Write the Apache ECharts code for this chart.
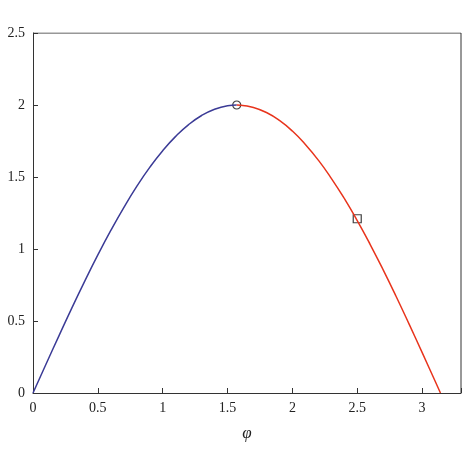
<!DOCTYPE html>
<html><head><meta charset="utf-8">
<script src="https://cdn.jsdelivr.net/npm/echarts@6/dist/echarts.min.js"></script>
<style>html,body{margin:0;padding:0;background:#fff}#c{width:474px;height:474px}</style>
</head><body><div id="c"></div>
<script>
const bluePhi = [0,0.1,0.2,0.3,0.4,0.5,0.6,0.7,0.8,0.9,1.0,1.1,1.2,1.3,1.4,1.5,1.5708];
const blueVal = [0,0.200,0.397,0.591,0.779,0.959,1.129,1.288,1.435,1.567,1.683,1.782,1.864,1.927,1.971,1.995,2.0];
const redPhi = [1.5708,1.6,1.7,1.8,1.9,2.0,2.1,2.2,2.3,2.4,2.5,2.6,2.7,2.8,2.9,3.0,3.1,3.1416];
const redVal = [2.0,1.999,1.983,1.948,1.893,1.819,1.726,1.617,1.491,1.351,1.197,1.031,0.855,0.670,0.478,0.282,0.083,0];
const circlePt = [1.5708,2.0];
const squarePt = [2.5,1.21];
const xTicks = [0,0.5,1,1.5,2,2.5,3];
const yTicks = [0,0.5,1,1.5,2,2.5];
const zip=(a,b)=>a.map((v,i)=>[v,b[i]]);
const font='Liberation Serif';
const chart=echarts.init(document.getElementById('c'));
chart.setOption({
  animation:false,
  grid:{left:33,right:13,top:33,bottom:81},
  xAxis:{type:'value',min:0,max:3.3,interval:0.5,name:'φ',nameLocation:'middle',nameGap:32,
    nameTextStyle:{fontFamily:font,fontStyle:'italic',fontSize:17,color:'#222'},
    axisLine:{show:true,lineStyle:{color:'#333'}},axisTick:{inside:true,length:5,lineStyle:{color:'#333'}},
    splitLine:{show:false},
    axisLabel:{fontFamily:font,fontSize:14,color:'#222',margin:8,formatter:v=>xTicks.includes(v)?String(v):''}},
  yAxis:{type:'value',min:0,max:2.5,interval:0.5,
    axisLine:{show:true,lineStyle:{color:'#333'}},axisTick:{inside:true,length:5,lineStyle:{color:'#333'}},
    splitLine:{show:false},
    axisLabel:{fontFamily:font,fontSize:14,color:'#222',margin:8,formatter:v=>yTicks.includes(v)?String(v):''}},
  series:[
    {type:'line',data:zip(bluePhi,blueVal),smooth:true,showSymbol:false,lineStyle:{color:'#3b3b96',width:1.5}},
    {type:'line',data:zip(redPhi,redVal),smooth:true,showSymbol:false,lineStyle:{color:'#e8341c',width:1.5}},
    {type:'scatter',data:[circlePt],symbol:'circle',symbolSize:8,itemStyle:{color:'none',borderColor:'#111',borderWidth:1.2}},
    {type:'scatter',data:[squarePt],symbol:'rect',symbolSize:8,itemStyle:{color:'none',borderColor:'#111',borderWidth:1.2}},
    {type:'line',data:[[0,2.5],[3.3,2.5],[3.3,0]],showSymbol:false,silent:true,lineStyle:{color:'#333',width:1}}
  ]
});
</script></body></html>
